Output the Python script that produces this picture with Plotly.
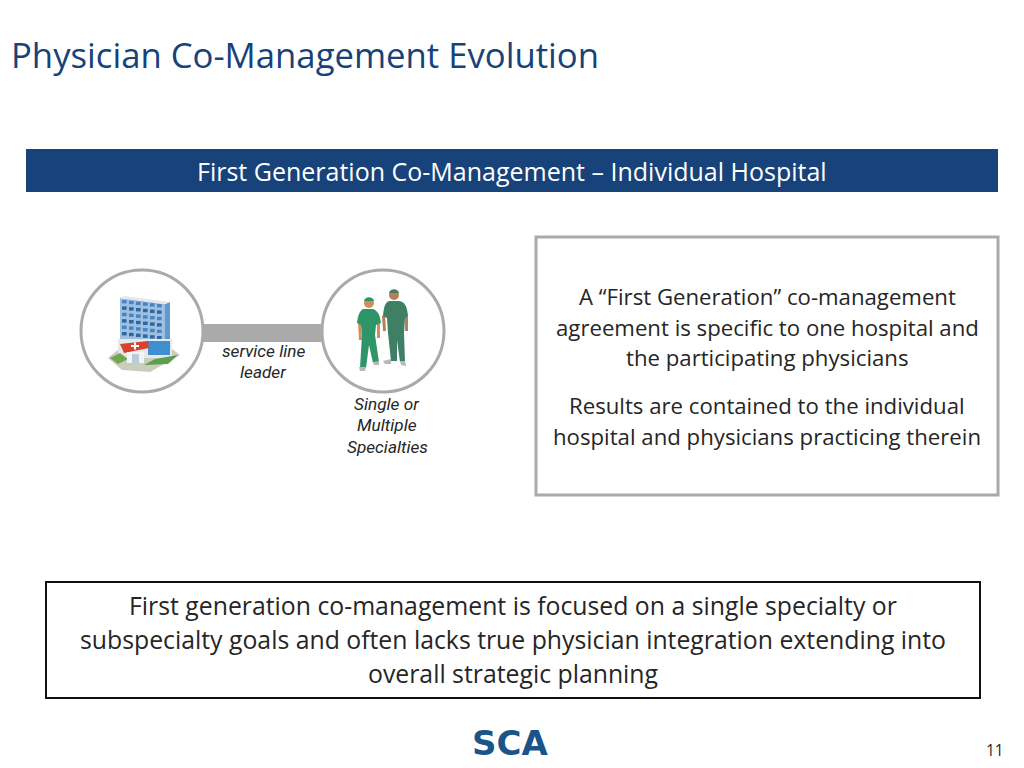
import plotly.graph_objects as go

# slide text
titleText = "Physician Co-Management Evolution"
bannerText = "First Generation Co-Management \u2013 Individual Hospital"
rightLines = [
    "A \u201cFirst Generation\u201d co-management",
    "agreement is specific to one hospital and",
    "the participating physicians",
    "Results are contained to the individual",
    "hospital and physicians practicing therein",
]
rightLineY = [296, 327, 357, 405, 436]
bottomLines = [
    "First generation co-management is focused on a single specialty or",
    "subspecialty goals and often lacks true physician integration extending into",
    "overall strategic planning",
]
bottomLineY = [605, 639, 673]
linkLines = ["service line", "leader"]
linkLineY = [351, 372]
specLines = ["Single or", "Multiple", "Specialties"]
specLineY = [404, 425, 447]
pageNumber = "11"

navy = "#17427A"
grey = "#AAAAAA"
textColor = "#262626"
bodyFont = "Open Sans"
smallFont = "Roboto"

fig = go.Figure()
shapes = []
notes = []


def rect(x0, y0, x1, y1, fill, line=None, width=0):
    shapes.append(dict(type="rect", x0=x0, y0=y0, x1=x1, y1=y1, fillcolor=fill,
                       line=dict(color=line or fill, width=width)))


def poly(path, fill):
    shapes.append(dict(type="path", path=path, fillcolor=fill, line=dict(width=0)))


def circle(cx, cy, r, fill, line=None, width=0):
    shapes.append(dict(type="circle", x0=cx - r, y0=cy - r, x1=cx + r, y1=cy + r,
                       fillcolor=fill, line=dict(color=line or fill, width=width)))


def text(x, y, s, size, color=textColor, anchor="center", italic=False, family=bodyFont, bold=False):
    notes.append(dict(x=x, y=y, text=s, showarrow=False, xanchor=anchor, yanchor="middle",
                      font=dict(size=size, color=color, family=family,
                                style="italic" if italic else "normal",
                                weight="bold" if bold else "normal")))


# boxes and banner
rect(26, 149, 998, 192, navy)
rect(536, 237, 998, 495, "white", grey, 3)
rect(46, 582, 980, 698, "white", "#111111", 2)

# connector and the two rings
rect(200, 324, 326, 342, grey)
circle(142, 331, 61, "white", grey, 3)
circle(383, 331, 61, "white", grey, 3)

# hospital icon
poly("M 108 358 L 119 349 L 172 349 L 180 355 L 150 372 L 122 370 Z", "#C9CDBB")
poly("M 120 298 L 165 304 L 165 345 L 120 345 Z", "#9DBFE0")
poly("M 165 304 L 170 302 L 170 343 L 165 345 Z", "#5E9AD0")
poly("M 120 298 L 125 296 L 170 302 L 165 304 Z", "#E3E8EE")
for row in range(6):
    for col in range(6):
        x = 122 + col * 7
        y = 300 + row * 6.4 + col * 0.8
        rect(x, y, x + 4.6, y + 3.4, "#2E669F" if row % 2 else "#4A84BE")
rect(118, 339, 172, 358, "#E4E9EE")
rect(148, 341, 170, 355, "#3E8FD0")
poly("M 110 358 L 120 353 L 128 359 L 118 364 Z", "#6FA84F")
poly("M 144 365 L 155 359 L 178 355 L 168 364 Z", "#5E9E4C")
poly("M 120 344 L 148 341 L 149 348 L 124 353 Z", "#D9402E")
rect(131, 345, 139, 347, "white")
rect(134, 342.5, 136, 349.5, "white")
rect(127, 352, 144, 363, "#F2F4F6")
rect(132, 354, 139, 363, "#B8CCDD")

# physicians
poly("M 382 316 L 385 314 L 386 331 L 383 331 Z", "#B77F55")
poly("M 405 314 L 408 316 L 408 331 L 405 331 Z", "#B77F55")
poly("M 389 301 C 385 303 384 306 383 316 L 387 318 L 388 333 L 391 361 L 397 361 "
     "L 397 340 L 400 362 L 405 362 L 404 333 L 405 318 L 408 316 C 407 306 405 302 399 301 Z", "#3F7F66")
poly("M 383 361 L 391 359 L 391 364 L 385 364 Z", "#B8B8B8")
poly("M 400 361 L 405 361 L 406 366 L 401 365 Z", "#B8B8B8")
circle(394, 295, 5, "#B77F55")
poly("M 389 293 C 390 288 398 288 399 293 Z", "#4A7A62")
poly("M 358 322 L 361 322 L 362 340 L 359 340 Z", "#CF8F5C")
poly("M 377 322 L 380 322 L 380 338 L 377 338 Z", "#CF8F5C")
poly("M 363 309 C 360 311 358 314 357 323 L 361 325 L 362 335 L 360 368 L 366 368 "
     "L 369 345 L 373 363 L 379 362 L 375 335 L 376 325 L 381 323 C 380 315 378 311 373 309 Z", "#2F9468")
poly("M 359 367 L 366 367 L 365 371 L 360 371 Z", "#B8B8B8")
poly("M 373 362 L 379 361 L 379 365 L 374 365 Z", "#B8B8B8")
circle(369, 303, 5, "#CF8F5C")
poly("M 364 301 C 365 296 373 296 374 301 Z", "#2F9468")

# text
text(9, 54, titleText, 34.7, navy, "left")
text(512, 171, bannerText, 25, "white")
for s, y in zip(rightLines, rightLineY):
    text(767, y, s, 22.2)
for s, y in zip(bottomLines, bottomLineY):
    text(513, y, s, 24.8)
for s, y in zip(linkLines, linkLineY):
    text(263, y, s, 17.2, italic=True, family=smallFont)
for s, y in zip(specLines, specLineY):
    text(387, y, s, 17.2, italic=True, family=smallFont)
text(510, 743, "SCA", 34, "#1A5488", family="DejaVu Sans", bold=True)
text(1006, 750, pageNumber, 15.5, anchor="right")

fig.update_layout(
    width=1024, height=768, margin=dict(l=0, r=0, t=0, b=0),
    paper_bgcolor="white", plot_bgcolor="white", showlegend=False,
    shapes=shapes, annotations=notes,
    xaxis=dict(range=[0, 1024], visible=False, fixedrange=True),
    yaxis=dict(range=[768, 0], visible=False, fixedrange=True),
)

fig.write_html("out.html", config=dict(displayModeBar=False),
               post_script="document.body.style.margin='0';document.body.style.overflow='hidden';")
